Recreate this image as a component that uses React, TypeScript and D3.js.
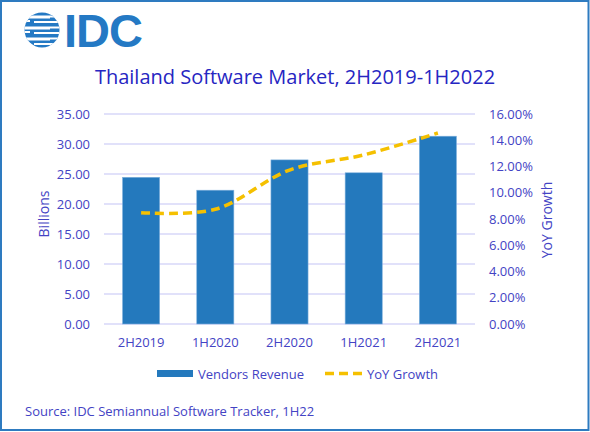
import { useEffect, useRef } from "react";
import * as d3 from "d3";

const PERIODS = ["2H2019", "1H2020", "2H2020", "1H2021", "2H2021"];
const REVENUE = [24.45, 22.3, 27.35, 25.2, 31.3];
const YOY = [8.48, 8.74, 11.73, 12.88, 14.55];
const LEFT_TICKS = [0, 5, 10, 15, 20, 25, 30, 35];
const RIGHT_TICKS = [0, 2, 4, 6, 8, 10, 12, 14, 16];

const TEXT = "#4343c4";
const TITLE = "#2626c2";
const GRID = "#c3c3f5";
const BAR = "#2479bd";
const LINE = "#f5c000";
const FONT = "'Open Sans', 'Noto Sans', sans-serif";

export default function App() {
  const ref = useRef<SVGSVGElement>(null);

  useEffect(() => {
    document.body.style.margin = "0";
    const el = ref.current;
    if (!el) return;
    const W = 590, H = 432;
    const M = { left: 104, right: 475, top: 114, bottom: 324 };
    const svg = d3.select(el).attr("width", W).attr("height", H).attr("viewBox", `0 0 ${W} ${H}`);
    svg.selectAll("*").remove();

    svg.append("rect").attr("x", 1).attr("y", 1).attr("width", W - 2.5).attr("height", H - 3)
      .attr("fill", "#fff").attr("stroke", "#2e7bc0").attr("stroke-width", 2);

    // logo
    const logo = svg.append("g");
    const clip = svg.append("defs").append("clipPath").attr("id", "globe");
    clip.append("circle").attr("cx", 42).attr("cy", 30).attr("r", 17.5);
    const gl = logo.append("g").attr("clip-path", "url(#globe)");
    gl.append("rect").attr("x", 20).attr("y", 10).attr("width", 45).attr("height", 40).attr("fill", "#2479c4");
    [15.5, 21, 26.5, 32, 37.5, 43].forEach((yy, i) => {
      gl.append("rect").attr("x", i % 2 ? 34 : 20).attr("y", yy).attr("width", 45).attr("height", 2).attr("fill", "#fff");
      gl.append("rect").attr("x", 20).attr("y", yy).attr("width", i % 2 ? 10 : 30).attr("height", 2)
        .attr("fill", "#fff").attr("transform", `translate(0,${i % 2 ? -1 : 1})`);
    });
    logo.append("text").attr("x", 64).attr("y", 47).attr("font-family", "'Liberation Sans', Arial, sans-serif")
      .attr("font-weight", "bold").attr("font-size", 47).attr("fill", "#2479c4").attr("letter-spacing", -1).text("IDC");

    svg.append("text").attr("x", 295).attr("y", 84).attr("text-anchor", "middle")
      .attr("font-family", FONT).attr("font-size", 20).attr("fill", TITLE)
      .text("Thailand Software Market, 2H2019-1H2022");

    const x = d3.scaleBand<string>().domain(PERIODS).range([M.left, M.right]).paddingInner(0.5).paddingOuter(0.25);
    const y = d3.scaleLinear().domain([0, 35]).range([M.bottom, M.top]);
    const y2 = d3.scaleLinear().domain([0, 16]).range([M.bottom, M.top]);

    svg.append("g").selectAll("line").data(LEFT_TICKS).join("line")
      .attr("x1", M.left).attr("x2", M.right).attr("y1", (d) => y(d)).attr("y2", (d) => y(d))
      .attr("stroke", GRID).attr("stroke-width", 1);

    svg.append("g").selectAll("text").data(LEFT_TICKS).join("text")
      .attr("x", 90).attr("y", (d) => y(d) + 4.5).attr("text-anchor", "end")
      .attr("font-family", FONT).attr("font-size", 13).attr("fill", TEXT).text((d) => d.toFixed(2));

    svg.append("g").selectAll("text").data(RIGHT_TICKS).join("text")
      .attr("x", 489).attr("y", (d) => y2(d) + 4.5)
      .attr("font-family", FONT).attr("font-size", 13).attr("fill", TEXT).text((d) => d.toFixed(2) + "%");

    svg.append("g").selectAll("rect").data(REVENUE).join("rect")
      .attr("x", (_, i) => x(PERIODS[i]) ?? 0).attr("width", x.bandwidth())
      .attr("y", (d) => y(d)).attr("height", (d) => y(0) - y(d))
      .attr("fill", BAR).attr("stroke", "#7fb0dc").attr("stroke-width", 0.6);

    const line = d3.line<number>()
      .x((_, i) => (x(PERIODS[i]) ?? 0) + x.bandwidth() / 2)
      .y((d) => y2(d))
      .curve(d3.curveCatmullRom.alpha(0.5));
    svg.append("path").attr("d", line(YOY)).attr("fill", "none").attr("stroke", LINE)
      .attr("stroke-width", 3.5).attr("stroke-dasharray", "9 5");

    svg.append("g").selectAll("text").data(PERIODS).join("text")
      .attr("x", (d) => (x(d) ?? 0) + x.bandwidth() / 2).attr("y", 347).attr("text-anchor", "middle")
      .attr("font-family", FONT).attr("font-size", 13).attr("fill", TEXT).text((d) => d);

    svg.append("text").attr("transform", "translate(49,214) rotate(-90)").attr("text-anchor", "middle")
      .attr("font-family", FONT).attr("font-size", 14).attr("fill", TEXT).text("Billions");
    svg.append("text").attr("transform", "translate(552,220) rotate(-90)").attr("text-anchor", "middle")
      .attr("font-family", FONT).attr("font-size", 14).attr("fill", TEXT).text("YoY Growth");

    // legend
    const lg = svg.append("g").attr("font-family", FONT).attr("font-size", 13).attr("fill", TEXT);
    lg.append("rect").attr("x", 157).attr("y", 370).attr("width", 36).attr("height", 7).attr("fill", BAR);
    lg.append("text").attr("x", 198).attr("y", 378.5).text("Vendors Revenue");
    lg.append("line").attr("x1", 325).attr("x2", 363).attr("y1", 373.5).attr("y2", 373.5)
      .attr("stroke", LINE).attr("stroke-width", 3.5).attr("stroke-dasharray", "9 5");
    lg.append("text").attr("x", 367).attr("y", 378.5).text("YoY Growth");

    svg.append("text").attr("x", 25).attr("y", 416).attr("font-family", FONT).attr("font-size", 13)
      .attr("fill", TEXT).text("Source: IDC Semiannual Software Tracker, 1H22");
  }, []);

  return <svg ref={ref} role="img" aria-label="Thailand Software Market" style={{ display: "block" }} />;
}
